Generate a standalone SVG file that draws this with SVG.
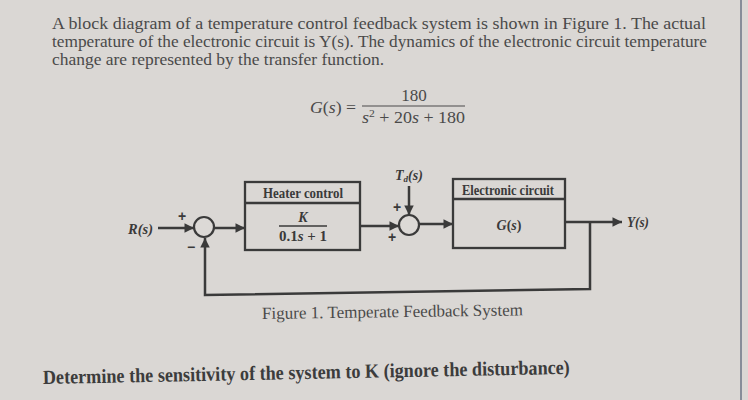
<svg xmlns="http://www.w3.org/2000/svg" width="748" height="400" viewBox="0 0 748 400">
<style>
.para{font-family:"Liberation Serif","Times New Roman",serif;font-size:16.5px;fill:#4a4a4a}
.math{font-family:"Liberation Serif","Times New Roman",serif;font-size:17px;fill:#4a4a4a}
.lbl{font-family:"Liberation Serif","Times New Roman",serif;font-size:14px;font-weight:bold;fill:#3a3a3a}
.sgn{font-family:"Liberation Sans",Arial,sans-serif;font-size:14px;font-weight:bold;fill:#3a3a3a}
.it{font-style:italic}
.ln{stroke:#3a3a3a;stroke-width:2.5;fill:none}
.box{stroke:#3a3a3a;stroke-width:2.3;fill:none}
.sum{stroke:#3a3a3a;stroke-width:2.2;fill:#dcd9d6}
.bold{font-family:"Liberation Serif","Times New Roman",serif;font-size:20px;font-weight:bold;fill:#3c3c3c}
</style>
<defs>
<marker id="ah" viewBox="0 0 10 10" refX="10" refY="5" markerWidth="4.4" markerHeight="3.8" markerUnits="strokeWidth" orient="auto">
<path d="M0,0 L10,5 L0,10 z" fill="#3a3a3a"/>
</marker>
</defs>
<rect x="0" y="0" width="748" height="400" fill="#dad7d4"/>
<line x1="741" y1="0" x2="741" y2="400" stroke="#6a7486" stroke-width="1.5"/>

<g id="paragraph">
<text class="para" x="52" y="29" textLength="654" lengthAdjust="spacingAndGlyphs">A block diagram of a temperature control feedback system is shown in Figure 1. The actual</text>
<text class="para" x="52" y="47" textLength="655" lengthAdjust="spacingAndGlyphs">temperature of the electronic circuit is Y(s). The dynamics of the electronic circuit temperature</text>
<text class="para" x="52" y="65" textLength="332" lengthAdjust="spacingAndGlyphs">change are represented by the transfer function.</text>
</g>

<g id="formula">
<text class="math" x="310" y="113" textLength="46" lengthAdjust="spacingAndGlyphs"><tspan class="it">G</tspan>(<tspan class="it">s</tspan>) =</text>
<text class="math" x="414" y="101" text-anchor="middle">180</text>
<line x1="362" y1="106" x2="465" y2="106" stroke="#4a4a4a" stroke-width="1.2"/>
<text class="math" x="362" y="123" textLength="103" lengthAdjust="spacingAndGlyphs"><tspan class="it">s</tspan><tspan dy="-6" font-size="11">2</tspan><tspan dy="6"> + 20</tspan><tspan class="it">s</tspan> + 180</text>
</g>

<g id="connectors">
<line class="ln" x1="158" y1="228" x2="194" y2="228" marker-end="url(#ah)"/>
<line class="ln" x1="214" y1="228" x2="245" y2="228" marker-end="url(#ah)"/>
<line class="ln" x1="360" y1="226" x2="399" y2="226" marker-end="url(#ah)"/>
<line class="ln" x1="409" y1="186" x2="409" y2="215" marker-end="url(#ah)"/>
<line class="ln" x1="419" y1="224" x2="453" y2="224" marker-end="url(#ah)"/>
<line class="ln" x1="565" y1="222" x2="622" y2="222" marker-end="url(#ah)"/>
<polyline class="ln" points="590,222 590,289 205,295 205,238" marker-end="url(#ah)"/>
</g>

<g id="sum1">
<circle class="sum" cx="204" cy="227" r="10"/>
<text class="sgn" x="182" y="221" text-anchor="middle">+</text>
<text class="sgn" x="191" y="252" text-anchor="middle">−</text>
</g>

<g id="input">
<text class="lbl it" x="128" y="234" textLength="25" lengthAdjust="spacingAndGlyphs">R(s)</text>
</g>

<g id="heater">
<rect class="box" x="245" y="182" width="115" height="68"/>
<line class="box" x1="245" y1="203" x2="360" y2="203"/>
<text class="lbl" x="303" y="198" text-anchor="middle" textLength="80" lengthAdjust="spacingAndGlyphs">Heater control</text>
<text class="lbl it" x="303" y="222" text-anchor="middle" font-size="15">K</text>
<line x1="279" y1="226" x2="327" y2="226" stroke="#3a3a3a" stroke-width="1.5"/>
<text class="lbl" x="303" y="241" text-anchor="middle" textLength="48" lengthAdjust="spacingAndGlyphs">0.1<tspan class="it">s</tspan> + 1</text>
</g>

<g id="sum2">
<circle class="sum" cx="409" cy="225" r="10"/>
<text class="sgn" x="397" y="212" text-anchor="middle">+</text>
<text class="sgn" x="392" y="242" text-anchor="middle">+</text>
</g>

<g id="disturbance">
<text class="lbl it" x="395" y="180" font-size="13"><tspan>T</tspan><tspan font-size="9" dy="2">d</tspan><tspan dy="-2">(s)</tspan></text>
</g>

<g id="electronic">
<rect class="box" x="453" y="179" width="112" height="69"/>
<line class="box" x1="453" y1="199" x2="565" y2="199"/>
<text class="lbl" x="508" y="195" text-anchor="middle" textLength="92" lengthAdjust="spacingAndGlyphs">Electronic circuit</text>
<text class="lbl" x="509" y="230" text-anchor="middle" font-size="15"><tspan class="it">G</tspan>(<tspan class="it">s</tspan>)</text>
</g>

<g id="output">
<text class="lbl it" x="627" y="227" textLength="22" lengthAdjust="spacingAndGlyphs">Y(s)</text>
</g>

<g id="caption">
<text class="math" x="262" y="319" textLength="261" lengthAdjust="spacingAndGlyphs" transform="rotate(-0.8 262 319)">Figure 1. Temperate Feedback System</text>
</g>

<g id="question">
<text class="bold" x="43" y="384" textLength="527" lengthAdjust="spacingAndGlyphs" transform="rotate(-1.1 43 384)">Determine the sensitivity of the system to K (ignore the disturbance)</text>
</g>
</svg>
